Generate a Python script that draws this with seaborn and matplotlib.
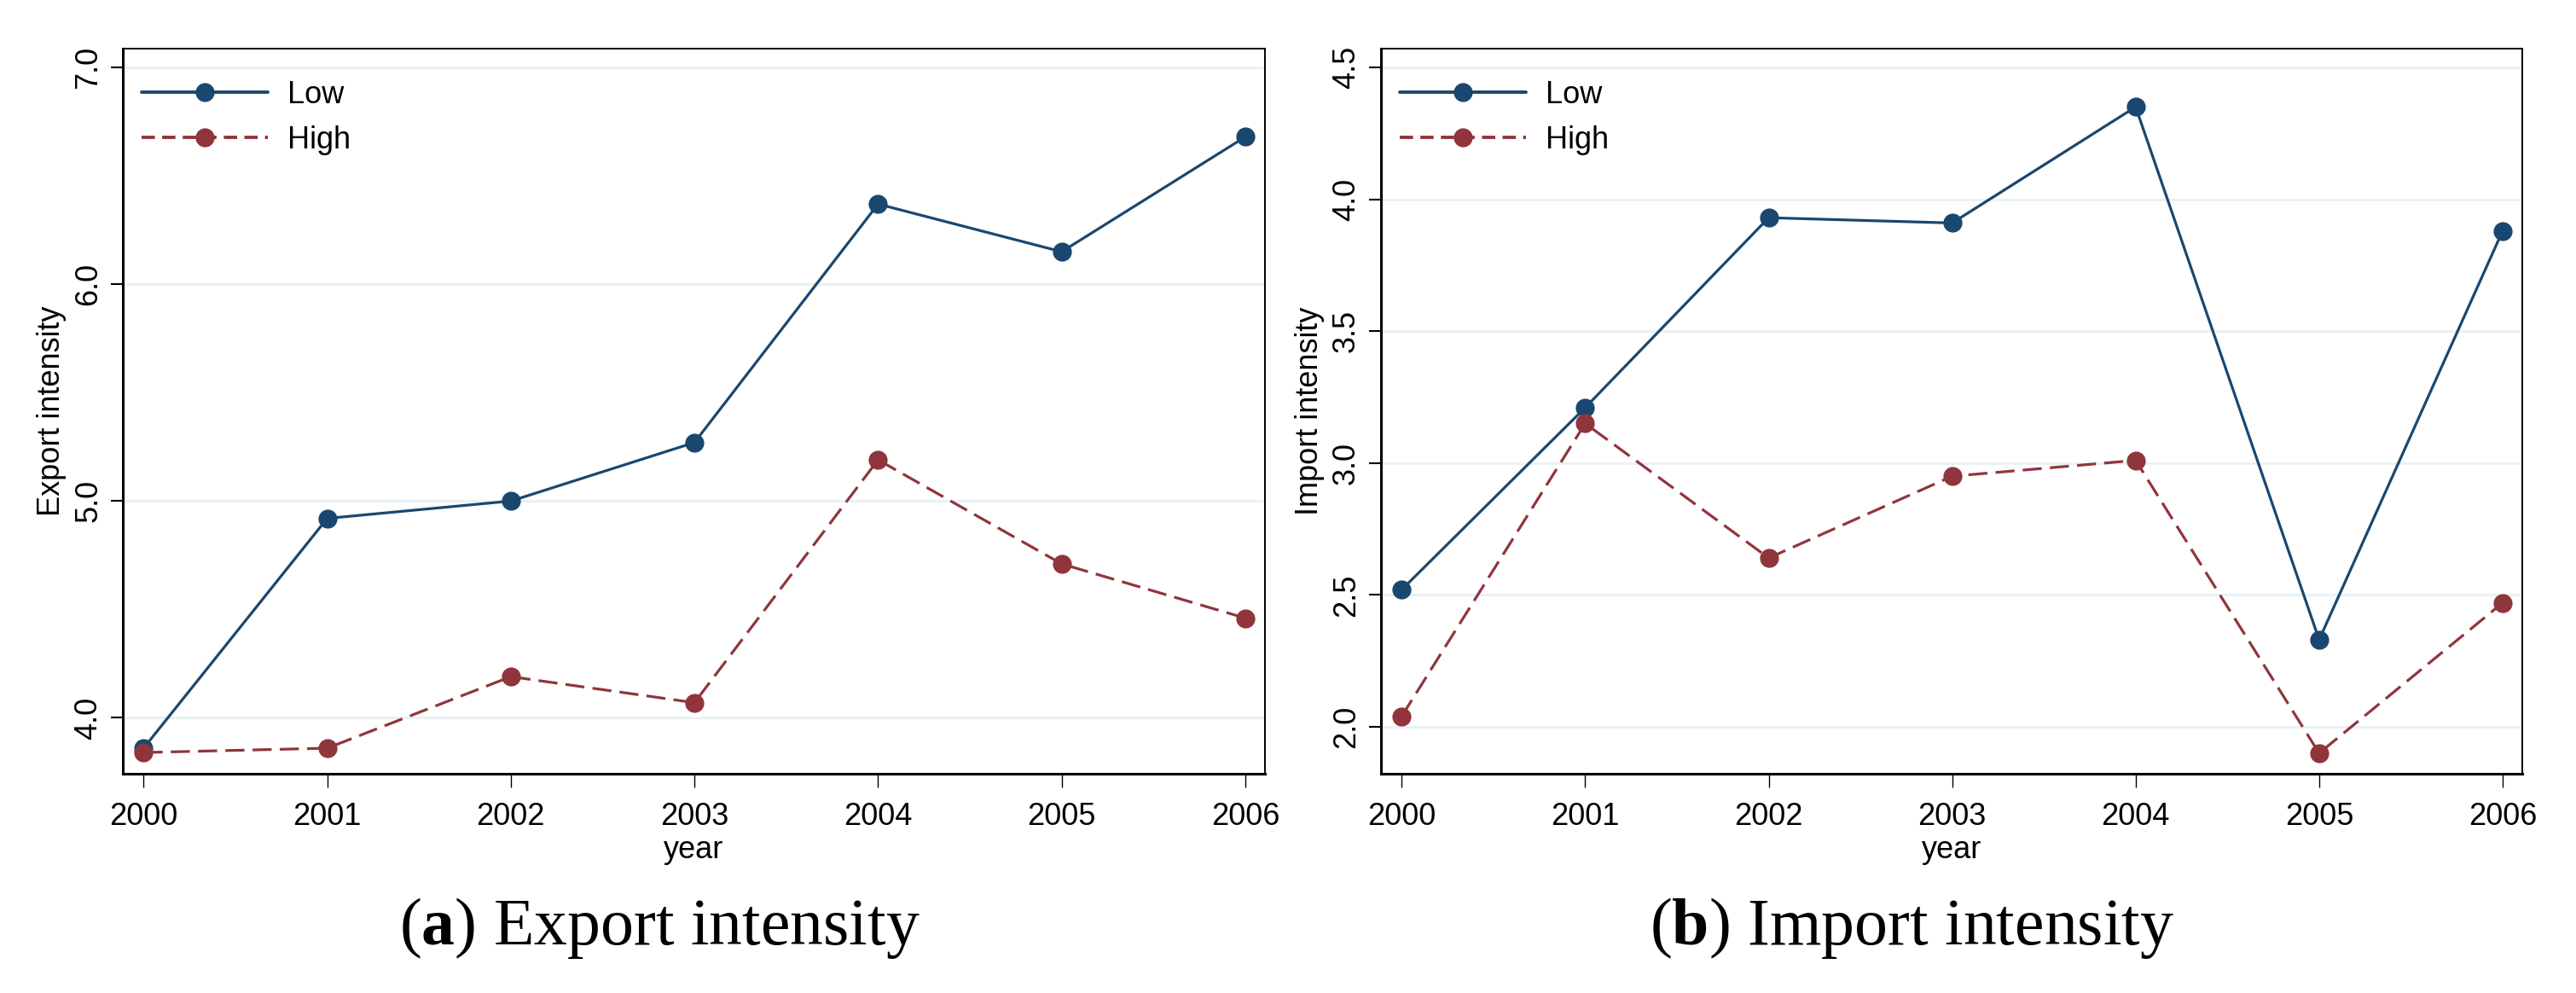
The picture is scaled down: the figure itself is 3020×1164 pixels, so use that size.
import numpy as np
import pandas as pd
import matplotlib
matplotlib.use("Agg")
import matplotlib.pyplot as plt
import seaborn as sns
from matplotlib.lines import Line2D

# ---------------- data ----------------
years = [2000, 2001, 2002, 2003, 2004, 2005, 2006]
export_low = [3.86, 4.92, 5.00, 5.27, 6.37, 6.15, 6.68]
export_high = [3.84, 3.86, 4.19, 4.07, 5.19, 4.71, 4.46]
import_low = [2.52, 3.21, 3.93, 3.91, 4.35, 2.33, 3.88]
import_high = [2.04, 3.15, 2.64, 2.95, 3.01, 1.90, 2.47]
groups = ["Low", "High"]
export_ticks = [4.0, 5.0, 6.0, 7.0]
import_ticks = [2.0, 2.5, 3.0, 3.5, 4.0, 4.5]
captions = [r"($\mathbf{a}$) Export intensity", r"($\mathbf{b}$) Import intensity"]
ylabels = ["Export intensity", "Import intensity"]

# ---------------- style ----------------
sns.set_theme(style="white")
plt.rcParams["font.family"] = ["Liberation Sans", "DejaVu Sans"]
plt.rcParams["mathtext.fontset"] = "custom"
plt.rcParams["mathtext.rm"] = "Liberation Serif"
plt.rcParams["mathtext.bf"] = "Liberation Serif:bold"
plt.rcParams["mathtext.it"] = "Liberation Serif:italic"
for k in ["text.color", "axes.labelcolor", "xtick.color", "ytick.color",
          "axes.edgecolor"]:
    plt.rcParams[k] = "black"

NAVY = "#1a476f"
MAROON = "#90353b"
GRID = "#eaf2f3"
palette = {"Low": NAVY, "High": MAROON}
dash_pat = (7.0, 3.0)

W, H = 3020, 1164
fig = plt.figure(figsize=(W / 100, H / 100), dpi=100)
fig.patch.set_facecolor("white")


def px_axes(x0, y0, x1, y1):
    return fig.add_axes([x0 / W, 1 - y1 / H, (x1 - x0) / W, (y1 - y0) / H])


def make_df(low, high):
    return pd.DataFrame({
        "year": years * 2,
        "value": list(low) + list(high),
        "group": ["Low"] * len(years) + ["High"] * len(years),
    })


panels = [
    dict(df=make_df(export_low, export_high), box=(144, 57, 1483, 907),
         ylim=(3.742, 7.087), ticks=export_ticks, ylabel=ylabels[0],
         cap=captions[0], capx=773),
    dict(df=make_df(import_low, import_high), box=(1619, 57, 2957, 907),
         ylim=(1.822, 4.571), ticks=import_ticks, ylabel=ylabels[1],
         cap=captions[1], capx=2242),
]

FS = 26
LW = 2.3
MS = 16
for p in panels:
    ax = px_axes(*p["box"])
    ax.set_facecolor("white")
    for v in p["ticks"]:
        ax.axhline(v, color=GRID, lw=2.2, zorder=0)
    sns.lineplot(data=p["df"], x="year", y="value", hue="group", style="group",
                 hue_order=groups, style_order=groups, palette=palette,
                 markers={"Low": "o", "High": "o"},
                 dashes={"Low": "", "High": dash_pat},
                 markersize=MS, markeredgewidth=0, linewidth=LW,
                 legend=False, ax=ax, zorder=3)
    ax.set_xlim(1999.887, 2006.107)
    ax.set_ylim(*p["ylim"])
    ax.set_xticks(years)
    ax.set_xticklabels([str(y) for y in years], fontsize=FS)
    ax.set_yticks(p["ticks"])
    ax.set_yticklabels([f"{t:.1f}" for t in p["ticks"]], fontsize=FS,
                       rotation=90, va="center")
    ax.tick_params(axis="y", length=10, width=1.5, pad=6.5, color="black",
                   left=True)
    ax.tick_params(axis="x", length=11.5, width=1.0, pad=12, color="black",
                   bottom=True)
    ax.set_xlabel("year", fontsize=FS, labelpad=3)
    ax.set_ylabel(p["ylabel"], fontsize=FS, labelpad=6)
    ax.grid(False)
    for s in ["left", "bottom"]:
        ax.spines[s].set_linewidth(2.2)
        ax.spines[s].set_color("black")
    for s in ["top", "right"]:
        ax.spines[s].set_linewidth(1.4)
        ax.spines[s].set_color("black")
    handles = [
        Line2D([], [], color=NAVY, lw=2.8, marker="o", markersize=MS,
               markeredgewidth=0),
        Line2D([], [], color=MAROON, lw=2.8, marker="o", markersize=MS,
               markeredgewidth=0, dashes=(4, 2.2)),
    ]
    ax.legend(handles, groups, loc="upper left", bbox_to_anchor=(0.0, 0.982),
              frameon=False, fontsize=FS, handlelength=4.1,
              handletextpad=0.65, labelspacing=0.5, borderpad=0.0,
              borderaxespad=0.6)
    fig.text(p["capx"] / W, 1 - 1107 / H, p["cap"], fontsize=56,
             ha="center", va="baseline", family="Liberation Serif",
             color="black")

fig.savefig("out.png", dpi=100, facecolor="white")
